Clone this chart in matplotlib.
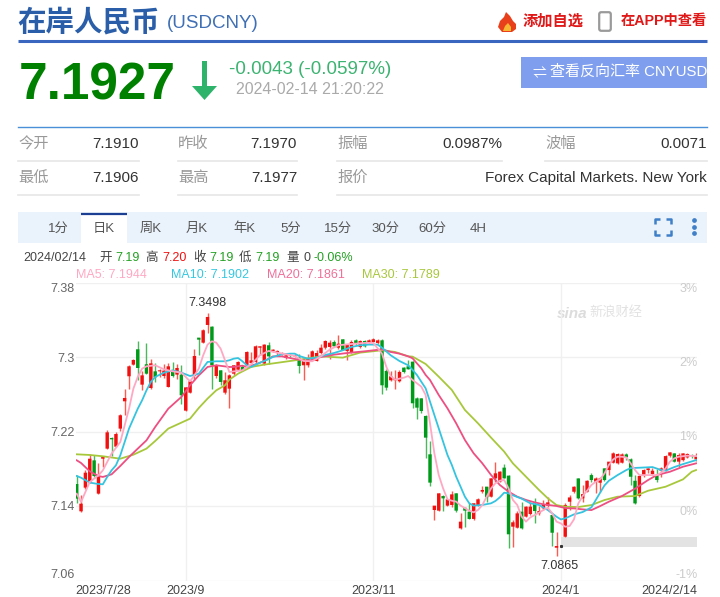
import numpy as np
import matplotlib
matplotlib.use('Agg')
import matplotlib.pyplot as plt
from matplotlib.patches import FancyBboxPatch, Rectangle, Polygon

plt.rcParams['font.family'] = ['Liberation Sans', 'Noto Sans CJK SC', 'DejaVu Sans']

nan = float('nan')

# 日K数据
opens = [7.1636, 7.1343, 7.1597, 7.1658, 7.1890, 7.1533, 7.1908, 7.2016, 7.2130, 7.2037,
         7.2231, 7.2524, 7.2793, 7.2918, 7.3083, 7.2703, 7.2922, 7.2667, 7.2846, 7.2846,
         7.2796, 7.2678, 7.2857, 7.2811, 7.2811, 7.2424, 7.2617, 7.2796, 7.3208, 7.3154,
         7.3344, 7.3326, 7.2796, 7.2857, 7.2617, 7.2660, 7.2821, 7.2864, 7.2893, 7.2911,
         7.2936, 7.2947, 7.3100, 7.2929, 7.3126, 7.3065, 7.3047, 7.3032, 7.2989, 7.3022,
         7.3007, 7.2993, 7.2911, 7.2911, 7.2993, 7.2957, 7.3043, 7.3100, 7.3108, 7.3161,
         7.3100, 7.3190, 7.3065, 7.3054, 7.3179, 7.3108, 7.3172, 7.3154, 7.3161, 7.3151,
         7.3179, 7.2850, 7.2750, 7.2750, 7.2739, 7.2886, 7.2900, 7.2950, 7.2556, 7.2556,
         7.2367, 7.1955, 7.1357, 7.1350, 7.1507, 7.1404, 7.1411, 7.1536, 7.1160, 7.1382,
         7.1339, 7.1261, 7.1411, 7.1554, 7.1608, 7.1500, 7.1697, 7.1661, 7.1812, 7.1726,
         7.1178, 7.1167, 7.1339, 7.1286, 7.1314, 7.1422, 7.1321, 7.1375, 7.1404, 7.1303,
         7.0952, nan, 7.1070, 7.1446, 7.1553, 7.1696, 7.1482, 7.1553, 7.1732, 7.1661,
         7.1650, 7.1804, 7.1786, 7.1865, 7.1858, 7.1865, 7.1954, 7.1901, 7.1671, 7.1507,
         7.1722, 7.1786, 7.1743, 7.1722, 7.1779, 7.1786, 7.1940, 7.1965, 7.1876, 7.1893,
         7.1922, 7.1947, 7.1901]
closes = [7.1479, 7.1425, 7.1758, 7.1908, 7.1722, 7.1712, 7.1926, 7.2191, 7.2116, 7.2173,
          7.2374, 7.2560, 7.2900, 7.2968, 7.2882, 7.2803, 7.2821, 7.2932, 7.2782, 7.2857,
          7.2854, 7.2900, 7.2796, 7.2882, 7.2589, 7.2674, 7.2739, 7.3011, 7.3186, 7.3287,
          7.3430, 7.2911, 7.2911, 7.2732, 7.2750, 7.2803, 7.2911, 7.2947, 7.2857, 7.3054,
          7.2964, 7.3115, 7.3115, 7.3133, 7.3007, 7.3079, 7.3065, 7.3043, 7.3018, 7.3014,
          7.3018, 7.2904, 7.2964, 7.2982, 7.3061, 7.3043, 7.3100, 7.3172, 7.3154, 7.3115,
          7.3143, 7.3072, 7.3136, 7.3161, 7.3151, 7.3172, 7.3115, 7.3179, 7.3190, 7.3179,
          7.2696, 7.2671, 7.2793, 7.2767, 7.2839, 7.2839, 7.2868, 7.2503, 7.2456, 7.2420,
          7.2134, 7.1651, 7.1404, 7.1536, 7.1482, 7.1472, 7.1525, 7.1350, 7.1232, 7.1350,
          7.1261, 7.1429, 7.1472, 7.1572, 7.1493, 7.1697, 7.1751, 7.1769, 7.1697, 7.1096,
          7.1225, 7.1321, 7.1160, 7.1393, 7.1393, 7.1346, 7.1346, 7.1418, 7.1439, 7.1113,
          7.0970, nan, 7.1410, 7.1492, 7.1607, 7.1482, 7.1528, 7.1671, 7.1679, 7.1696,
          7.1696, 7.1679, 7.1876, 7.1965, 7.1958, 7.1954, 7.1922, 7.1714, 7.1428, 7.1722,
          7.1786, 7.1804, 7.1779, 7.1679, 7.1804, 7.1936, 7.1976, 7.1876, 7.1947, 7.1965,
          7.1958, 7.1936, 7.1936]
highs = [7.1729, 7.1522, 7.1783, 7.1962, 7.1944, 7.1862, 7.1937, 7.2213, 7.2141, 7.2195,
         7.2392, 7.2653, 7.2911, 7.2982, 7.3172, 7.2846, 7.3154, 7.2982, 7.2939, 7.2868,
         7.2929, 7.2939, 7.2947, 7.2929, 7.2911, 7.2678, 7.2750, 7.3083, 7.3208, 7.3297,
         7.3472, 7.3330, 7.2929, 7.2857, 7.2839, 7.2821, 7.2918, 7.2957, 7.2911, 7.3065,
         7.3054, 7.3126, 7.3115, 7.3136, 7.3161, 7.3090, 7.3072, 7.3054, 7.3036, 7.3040,
         7.3029, 7.3036, 7.3000, 7.3036, 7.3072, 7.3079, 7.3143, 7.3179, 7.3179, 7.3179,
         7.3233, 7.3197, 7.3143, 7.3179, 7.3197, 7.3186, 7.3179, 7.3190, 7.3201, 7.3190,
         7.3190, 7.2875, 7.2850, 7.2857, 7.2864, 7.2893, 7.2972, 7.2957, 7.2567, 7.2556,
         7.2374, 7.2098, 7.1404, 7.1543, 7.1518, 7.1479, 7.1565, 7.1536, 7.1329, 7.1382,
         7.1429, 7.1436, 7.1483, 7.1615, 7.1608, 7.1704, 7.1869, 7.1776, 7.1848, 7.1733,
         7.1250, 7.1346, 7.1447, 7.1400, 7.1447, 7.1490, 7.1404, 7.1465, 7.1500, 7.1303,
         7.1124, nan, 7.1428, 7.1517, 7.1614, 7.1704, 7.1625, 7.1679, 7.1757, 7.1714,
         7.1714, 7.1811, 7.1876, 7.1983, 7.1965, 7.1965, 7.1965, 7.1911, 7.1732, 7.1732,
         7.1793, 7.1811, 7.1804, 7.1793, 7.1822, 7.1943, 7.1983, 7.1972, 7.1965, 7.1972,
         7.1965, 7.1958, 7.1965]
lows = [7.1436, 7.1336, 7.1579, 7.1651, 7.1712, 7.1533, 7.1819, 7.2009, 7.1937, 7.2030,
        7.2209, 7.2374, 7.2660, 7.2911, 7.2750, 7.2642, 7.2821, 7.2660, 7.2732, 7.2786,
        7.2775, 7.2674, 7.2786, 7.2768, 7.2499, 7.2417, 7.2617, 7.2750, 7.3025, 7.3154,
        7.3258, 7.2660, 7.2775, 7.2703, 7.2606, 7.2456, 7.2803, 7.2857, 7.2850, 7.2904,
        7.2929, 7.2939, 7.3018, 7.2911, 7.2929, 7.3054, 7.3018, 7.3018, 7.2979, 7.3000,
        7.3000, 7.2828, 7.2750, 7.2893, 7.2982, 7.2957, 7.3036, 7.3090, 7.2982, 7.3108,
        7.3090, 7.3072, 7.2964, 7.3043, 7.3126, 7.3100, 7.3108, 7.3143, 7.3151, 7.3143,
        7.2599, 7.2642, 7.2742, 7.2660, 7.2732, 7.2832, 7.2868, 7.2456, 7.2331, 7.2395,
        7.1912, 7.1619, 7.1250, 7.1343, 7.1350, 7.1397, 7.1393, 7.1339, 7.1153, 7.1178,
        7.1261, 7.1253, 7.1404, 7.1536, 7.1447, 7.1493, 7.1661, 7.1654, 7.1697, 7.0945,
        7.0963, 7.1160, 7.1150, 7.1278, 7.1303, 7.1221, 7.1303, 7.1357, 7.1393, 7.0970,
        7.0865, nan, 7.1063, 7.1356, 7.1543, 7.1475, 7.1446, 7.1546, 7.1661, 7.1543,
        7.1553, 7.1671, 7.1732, 7.1858, 7.1850, 7.1858, 7.1893, 7.1625, 7.1417, 7.1500,
        7.1707, 7.1750, 7.1732, 7.1661, 7.1714, 7.1779, 7.1922, 7.1868, 7.1822, 7.1886,
        7.1911, 7.1911, 7.1886]

# 均线, 下标和数值分开
ma5_idx = [0, 1, 3, 5, 6, 7, 8, 10, 11, 12, 13, 14, 15, 16, 18, 20, 22, 24, 26, 27, 28, 29, 30, 31, 32, 33, 34, 35,
           38, 39, 40, 42, 44, 46, 48, 50, 52, 54, 56, 58, 60, 62, 64, 66, 68, 70, 71, 72, 73, 75, 76,
           77, 78, 79, 80, 81, 82, 83, 84, 85, 86, 87, 88, 90, 91, 92, 93, 94, 95, 96, 97, 98, 99, 100,
           101, 102, 103, 104, 105, 106, 107, 108, 109, 110, 111, 112, 113, 114, 115, 116, 117, 118, 119, 120,
           121, 122, 123, 124, 125, 126, 127, 128, 129, 131, 133, 134, 135, 136, 137, 138, 140, 142]
ma5 = [7.1532, 7.1443, 7.1658, 7.1729, 7.1783, 7.1873, 7.1962, 7.2087, 7.2266, 7.2445, 7.2660, 7.2786, 7.2875, 7.2900,
       7.2911, 7.2868, 7.2846, 7.2832, 7.2739, 7.2803, 7.2875, 7.3018, 7.3133, 7.3169, 7.3154, 7.3090, 7.2965, 7.2839,
       7.2857, 7.2893, 7.2921, 7.3018, 7.3065, 7.3047, 7.3029, 7.3011, 7.2957, 7.2954, 7.3007, 7.3079, 7.3126,
       7.3136, 7.3143, 7.3151, 7.3151, 7.3036, 7.2893, 7.2793, 7.2757, 7.2778, 7.2796,
       7.2753, 7.2718, 7.2682, 7.2592, 7.2288, 7.1966, 7.1733, 7.1590, 7.1472, 7.1457, 7.1447, 7.1404, 7.1350,
       7.1332, 7.1357, 7.1411, 7.1500, 7.1590, 7.1644, 7.1672, 7.1679, 7.1590, 7.1465,
       7.1411, 7.1286, 7.1232, 7.1278, 7.1303, 7.1329, 7.1357, 7.1382, 7.1321, 7.1232, 7.1213, 7.1177, 7.1185,
       7.1256, 7.1428, 7.1507, 7.1564, 7.1625, 7.1661, 7.1686,
       7.1750, 7.1840, 7.1901, 7.1929, 7.1929, 7.1922, 7.1858, 7.1786, 7.1732, 7.1732, 7.1732, 7.1757, 7.1804,
       7.1876, 7.1911, 7.1929, 7.1940, 7.1936]
ma10_idx = [0, 1, 3, 5, 6, 7, 8, 9, 10, 11, 12, 13, 14, 15, 16, 17, 18, 20, 22, 24, 26, 28, 30, 32, 34, 35,
            36, 37, 38, 39, 40, 41, 43, 45, 47, 49, 50, 51, 53, 55, 57, 59, 61, 63, 65, 67, 69, 70, 72, 74, 76,
            77, 78, 79, 80, 81, 82, 83, 84, 85, 86, 87, 88, 89, 90, 91, 93, 95, 96, 97, 98, 99, 100, 102, 104,
            106, 108, 110, 111, 112, 114, 116, 118, 119, 120, 121, 122, 124, 126, 127, 129, 132, 134, 135, 137, 139, 142]
ma10 = [7.1722, 7.1704, 7.1651, 7.1636, 7.1633, 7.1712, 7.1783, 7.1837, 7.1944, 7.2087, 7.2231, 7.2338, 7.2445,
        7.2535, 7.2642, 7.2732, 7.2786, 7.2832, 7.2857, 7.2832, 7.2796, 7.2821, 7.2947, 7.2954, 7.2954, 7.2965,
        7.2982, 7.2989, 7.2954, 7.2911, 7.2893, 7.2918, 7.2957, 7.3000, 7.3029, 7.3036, 7.3036, 7.3011, 7.2982,
        7.2993, 7.3022, 7.3043, 7.3072, 7.3108, 7.3126, 7.3133, 7.3133, 7.3100, 7.3018, 7.2957, 7.2911,
        7.2861, 7.2807, 7.2735, 7.2664, 7.2521, 7.2377, 7.2234, 7.2091, 7.1948, 7.1841, 7.1715, 7.1608, 7.1500,
        7.1429, 7.1404, 7.1411, 7.1429, 7.1454, 7.1493, 7.1543, 7.1536, 7.1515, 7.1479, 7.1429,
        7.1411, 7.1357, 7.1285, 7.1256, 7.1267, 7.1310, 7.1335, 7.1385, 7.1464, 7.1543, 7.1621, 7.1671, 7.1732,
        7.1786, 7.1807, 7.1811, 7.1818, 7.1786, 7.1779, 7.1818, 7.1850, 7.1893]
ma20_idx = [0, 1, 3, 5, 6, 8, 10, 12, 14, 16, 18, 21, 24, 26, 28, 30, 32, 35,
            36, 38, 39, 41, 43, 45, 47, 50, 53, 56, 59, 62, 66, 70, 72, 74, 76,
            77, 78, 79, 80, 81, 83, 85, 87, 89, 91, 93, 95, 97, 99, 101, 103, 105, 107, 110,
            112, 114, 116, 118, 120, 122, 125, 128, 131, 133, 136, 139, 142]
ma20 = [7.1891, 7.1862, 7.1772, 7.1722, 7.1712, 7.1740, 7.1830, 7.1926, 7.2016, 7.2105, 7.2249, 7.2445, 7.2571,
        7.2696, 7.2803, 7.2893, 7.2911, 7.2893,
        7.2893, 7.2907, 7.2893, 7.2921, 7.2957, 7.3007, 7.3007, 7.2979, 7.2957, 7.3000, 7.3025, 7.3043, 7.3061,
        7.3082, 7.3054, 7.3036, 7.3007,
        7.2986, 7.2932, 7.2879, 7.2807, 7.2753, 7.2592, 7.2449, 7.2288, 7.2109, 7.1966, 7.1858, 7.1733, 7.1626,
        7.1554, 7.1500, 7.1465, 7.1439, 7.1418, 7.1400,
        7.1378, 7.1374, 7.1364, 7.1356, 7.1399, 7.1446, 7.1507, 7.1586, 7.1679, 7.1732, 7.1768, 7.1822, 7.1858]
ma30_idx = [0, 3, 6, 10, 13, 16, 18, 21, 26, 28, 30, 32, 34, 35,
            37, 40, 43, 50, 56, 61, 65, 70, 73, 76,
            77, 80, 83, 86, 89, 92, 95, 98, 100, 103, 106, 108, 110,
            112, 115, 118, 121, 124, 128, 131, 135, 139, 141, 142]
ma30 = [7.1955, 7.1948, 7.1934, 7.1908, 7.1951, 7.2016, 7.2098, 7.2231, 7.2338, 7.2453, 7.2553, 7.2642, 7.2696, 7.2757,
        7.2821, 7.2893, 7.2918, 7.2964, 7.3007, 7.2993, 7.3047, 7.3072, 7.3054, 7.3007,
        7.3004, 7.2925, 7.2789, 7.2646, 7.2431, 7.2288, 7.2134, 7.1984, 7.1858, 7.1715, 7.1572, 7.1483, 7.1410,
        7.1392, 7.1389, 7.1410, 7.1464, 7.1500, 7.1507, 7.1564, 7.1607, 7.1686, 7.1768, 7.1786]

price_ticks = [7.06, 7.14, 7.22, 7.3, 7.38]
price_labels = ['7.06', '7.14', '7.22', '7.3', '7.38']
pct_labels = ['-1%', '0%', '1%', '2%', '3%']
date_ticks = [25, 68, 111]
date_labels = ['2023/9', '2023/11', '2024/1']

tabs = ['1分', '日K', '周K', '月K', '年K', '5分', '15分', '30分', '60分', '4H']
tab_x = [58, 104, 151, 197, 244, 291, 338, 385, 432, 478]

RED = '#f01010'
GREEN = '#009a1a'
BLUE_T = '#2a5ea8'

fig = plt.figure(figsize=(7.2, 5.97), dpi=100, facecolor='white')

# 整张图的页面层, 用像素坐标
pg = fig.add_axes([0, 0, 1, 1], zorder=0)
pg.set_xlim(0, 720)
pg.set_ylim(597, 0)
pg.axis('off')


def t(x, y, s, size=11, color='#333333', ha='left', weight='normal', **kw):
    return pg.text(x, y, s, fontsize=size, color=color, ha=ha, va='center', fontweight=weight, **kw)


t(17, 23, '在岸人民币', 20.5, BLUE_T, weight='bold')
t(167, 24, '(USDCNY)', 13.5, '#3f6fb5')
pg.plot([18, 707], [41, 41], color='#3a66c0', lw=2.2, solid_capstyle='butt')

# 火焰和手机图标
pg.add_patch(Polygon([(498, 27), (500, 21), (504, 17), (506, 12), (510, 16), (513, 21), (516, 24), (516, 29),
                      (512, 32), (502, 32)], closed=True, fc='#e8401a', ec='none'))
pg.add_patch(Polygon([(503, 31), (505, 26), (508, 23), (511, 27), (511, 31)], closed=True, fc='#f7b733', ec='none'))
t(523, 21, '添加自选', 11, '#e01818', weight='bold')
pg.add_patch(FancyBboxPatch((600, 13), 10, 17, boxstyle='round,pad=0.8,rounding_size=2', fc='white', ec='#9a9a9a', lw=1.6))
t(621, 21, '在APP中查看', 10.3, '#e01818', weight='bold')

t(19, 86, '7.1927', 37, '#008000', weight='bold')
pg.add_patch(Polygon([(202, 61), (207, 61), (207, 86), (217, 86), (204.5, 100), (192, 86), (202, 86)],
                     closed=True, fc='#2eb36b', ec='none'))
t(229, 69, '-0.0043 (-0.0597%)', 13.5, '#3cb371')
t(236, 89, '2024-02-14 21:20:22', 11.5, '#aaaaaa')
pg.add_patch(Rectangle((521, 57), 186, 31, fc='#7f9fee', ec='none'))
t(533, 73, '⇌', 10, 'white')
t(550, 72, '查看反向汇率 CNYUSD', 10.8, 'white')

pg.plot([18, 707], [126.5, 126.5], color='#4a90d9', lw=1)

for x0, lab, val, x1, row in [(18, '今开', '7.1910', 139, 144), (178, '昨收', '7.1970', 297, 144),
                              (337, '振幅', '0.0987%', 502, 144), (545, '波幅', '0.0071', 707, 144),
                              (18, '最低', '7.1906', 139, 178), (178, '最高', '7.1977', 297, 178),
                              (337, '报价', 'Forex Capital Markets. New York', 707, 178)]:
    t(x0, row, lab, 11, '#999999')
    t(x1, row, val, 11, '#333333', ha='right')
    pg.plot([x0, x1], [row + 16.5, row + 16.5], color='#e6e6e6', lw=1.2)

# 工具栏
pg.add_patch(Rectangle((18, 212), 689, 31, fc='#eaf2fb', ec='none'))
pg.add_patch(Rectangle((81, 214), 46, 29, fc='white', ec='none'))
pg.plot([81, 127], [214, 214], color='#1c3f94', lw=1.6, solid_capstyle='butt')
for s, x in zip(tabs, tab_x):
    t(x, 229, s, 9.5, '#555555', ha='center')
for xs, ys in [([655, 655, 660], [224, 219, 219]), ([666, 671, 671], [219, 219, 224]),
               ([655, 655, 660], [230, 235, 235]), ([666, 671, 671], [235, 235, 230])]:
    pg.plot(xs, ys, color='#3f7fc8', lw=1.8, solid_capstyle='butt')
pg.plot([694, 694, 694], [220, 227, 233], 'o', color='#3f7fc8', ms=2.4)

for x, s, c in [(23, '2024/02/14', '#444444'), (99, '开', '#444444'), (115, '7.19', '#22a022'), (145, '高', '#444444'),
                (162, '7.20', RED), (193, '收', '#444444'), (209, '7.19', '#22a022'), (239, '低', '#444444'),
                (255, '7.19', '#22a022'), (286, '量', '#444444'), (303, '0', '#444444'), (314, '-0.06%', '#22a022')]:
    t(x, 258, s, 9, c)
for x, s, c in [(76, 'MA5: 7.1944', '#ffa8c4'), (171, 'MA10: 7.1902', '#35c8e0'),
                (267, 'MA20: 7.1861', '#f0709a'), (362, 'MA30: 7.1789', '#a8c83c')]:
    t(x, 275, s, 9, c)

# K线区
ax = fig.add_axes([75.8 / 720, (597 - 580.5) / 597, 621.6 / 720, 298 / 597], zorder=1)
ax.patch.set_alpha(0)
ax.set_xlim(-0.2, 142.3)
ax.set_ylim(7.06, 7.38)
for sp in ax.spines.values():
    sp.set_visible(False)
ax.set_axisbelow(True)
ax.grid(True, color='#f0f0f0', lw=1)
ax.set_yticks(price_ticks)
ax.set_yticklabels(price_labels, fontsize=9, color='#666666')
ax.set_xticks(date_ticks)
ax.set_xticklabels(date_labels, fontsize=9, color='#444444')
ax.tick_params(length=0, pad=1)
ax.tick_params(axis='x', pad=3)
ax.get_yticklabels()[0].set_va('bottom')
ax.get_yticklabels()[-1].set_va('top')

for yv, s in zip(price_ticks, pct_labels):
    ax.text(1.0, yv, s, transform=ax.get_yaxis_transform(), ha='right', va='bottom' if s == '-1%' else 'top',
            fontsize=9, color='#cccccc')
ax.text(0.0, -0.0165, '2023/7/28', transform=ax.transAxes, ha='left', va='top', fontsize=9, color='#444444')
ax.text(1.0, -0.0165, '2024/2/14', transform=ax.transAxes, ha='right', va='top', fontsize=9, color='#444444')

# 水印
pg.text(557, 314, 'sina', fontsize=11, color='#dcdcdc', ha='left', va='center', fontweight='bold', style='italic')
pg.text(589, 312, '新浪财经', fontsize=9.5, color='#e2e2e2', ha='left', va='center')

ax.fill_between([111, 142.2], 7.0963, 7.1070, color='#e3e3e3', lw=0, zorder=1)

idx = np.arange(len(opens))
o, h, l, c = map(np.array, (opens, highs, lows, closes))
up = c >= o
ax.vlines(idx[up], l[up], h[up], color='#ff5a50', lw=1.0, zorder=2)
ax.vlines(idx[c < o], l[c < o], h[c < o], color='#4cb85c', lw=1.0, zorder=2)
ax.bar(idx[up], c[up] - o[up], bottom=o[up], width=0.78, color=RED, lw=0, zorder=3, snap=False)
ax.bar(idx[c < o], o[c < o] - c[c < o], bottom=c[c < o], width=0.78, color=GREEN, lw=0, zorder=3, snap=False)
ax.plot([111], [7.0970], 's', color='#333333', ms=1.2, zorder=4)

for xs, ys, col in [(ma30_idx, ma30, '#a8c83c'), (ma20_idx, ma20, '#ee4f83'),
                    (ma10_idx, ma10, '#35c4e0'), (ma5_idx, ma5, '#ffa8c4')]:
    ax.plot(xs, ys, color=col, lw=1.3, zorder=5, solid_joinstyle='round')

ax.annotate('7.3498', (30, 7.3472), xytext=(0, 3), textcoords='offset points', ha='center', va='bottom',
            fontsize=9, color='#333333')
ax.annotate('7.0865', (110, 7.0865), xytext=(2, -3), textcoords='offset points', ha='center', va='top',
            fontsize=9, color='#333333')

fig.savefig('out.png', dpi=100)
